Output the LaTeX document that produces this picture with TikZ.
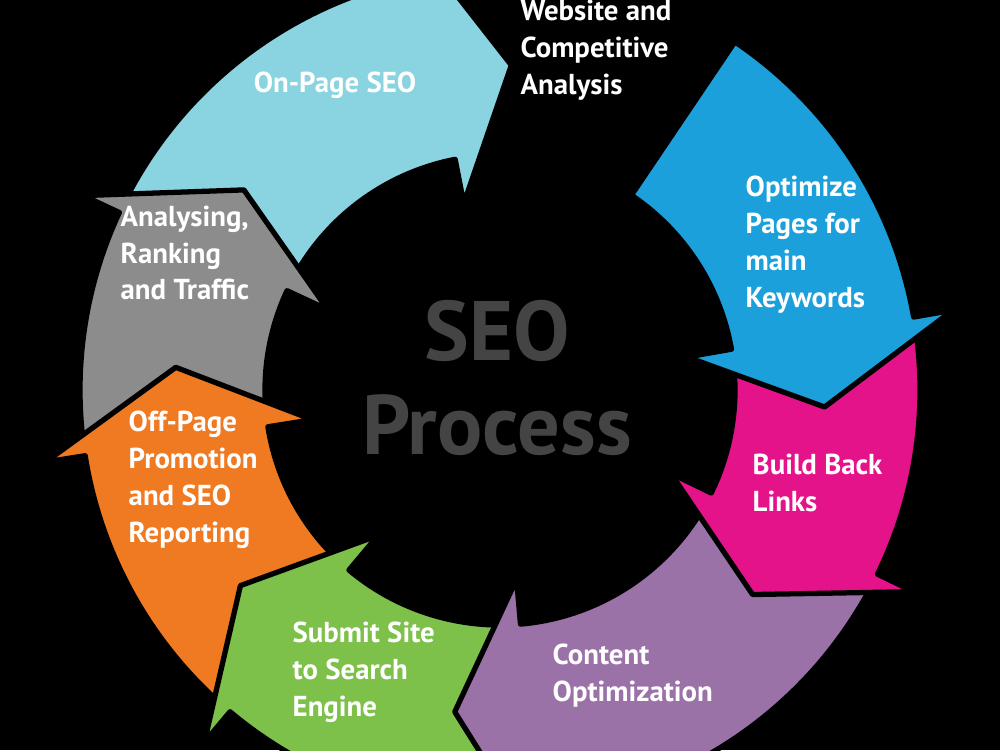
\documentclass[tikz,border=0pt]{standalone}
\usepackage{fontspec}
\setmainfont{PT Sans}
\definecolor{cLB}{HTML}{8AD3E0}
\definecolor{cB}{HTML}{1BA0DB}
\definecolor{cP}{HTML}{E5138A}
\definecolor{cV}{HTML}{9B72A8}
\definecolor{cG}{HTML}{7DC04A}
\definecolor{cO}{HTML}{F07A22}
\definecolor{cGr}{HTML}{8C8C8C}
\definecolor{cT}{HTML}{444444}
\tikzset{
  seg/.style={draw=black, line width=1.5pt, line join=round},
  lbl/.style={text=white, font=\bfseries\fontsize{8.2pt}{10.5pt}\selectfont, align=left, anchor=west, inner sep=0pt}
}
\begin{document}
\begin{tikzpicture}
\fill[black] (0,0) rectangle (10,7.5);
\useasboundingbox (0,0) rectangle (10,7.5);
\begin{scope}
\clip (0,0) rectangle (10,7.5);
\begin{scope}[shift={(5,3.6)}]
\foreach \c/\a/\b in {cLB/157/101, cGr/191/155, cO/232/189, cG/277/230, cV/336/275, cP/372/334, cB/416/370}{
  \filldraw[seg, fill=\c] (\a:4.2) arc[start angle=\a, end angle=\b, radius=4.2]
    -- (\b:4.6) -- ({\b-13}:3.25) -- (\b:1.9) -- (\b:2.35)
    arc[start angle=\b, end angle=\a, radius=2.35] -- cycle;
}
\end{scope}
\end{scope}
\node[lbl, anchor=center] (onp) at (3.35,6.65) {On-Page SEO};
\node[lbl] (web) at (5.2,7.0) {Website and\\Competitive\\Analysis};
\node[lbl] (opt) at (7.45,5.05) {Optimize\\Pages for\\main\\Keywords};
\node[lbl] (bbl) at (7.52,2.67) {Build Back\\Links};
\node[lbl] (con) at (5.52,0.74) {Content\\Optimization};
\node[lbl] (sub) at (2.92,0.78) {Submit Site\\to Search\\Engine};
\node[lbl] (off) at (1.28,2.7) {Off-Page\\Promotion\\and SEO\\Reporting};
\node[lbl] (ana) at (1.2,4.97) {Analysing,\\Ranking\\and Traffic};
\node[text=cT, font=\bfseries\fontsize{24pt}{27pt}\selectfont, align=center] (seo) at (4.97,3.72) {SEO\\Process};
\end{tikzpicture}
\end{document}
